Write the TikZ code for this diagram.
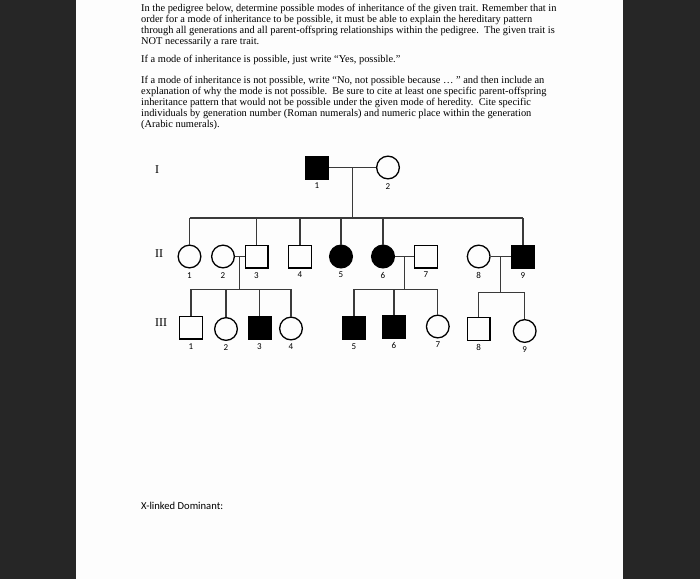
\documentclass[tikz,border=0pt]{standalone}
\usepackage{fontspec}
\setmainfont{Liberation Serif}
\newfontfamily\labfont{Carlito}
\usetikzlibrary{positioning,calc}
\definecolor{scanbar}{HTML}{262626}
\definecolor{paper}{HTML}{FDFDFD}
\definecolor{kinline}{HTML}{3A3A3A}

\begin{document}
\begin{tikzpicture}[x=1pt,y=-1pt,
  male/.style={draw,line width=1.3pt,minimum size=22.7pt,inner sep=0pt},
  female/.style={draw,circle,line width=1.3pt,minimum size=22.7pt,inner sep=0pt},
  hit/.style={fill=black},
  kin/.style={draw=kinline,line width=1.1pt},
  num/.style={font=\labfont\fontsize{9}{9}\selectfont,inner sep=0pt,label distance=3.5pt},
  gen/.style={font=\fontsize{12}{12}\selectfont,anchor=west,inner sep=0pt},
  para/.style={anchor=north west,align=left,inner sep=0pt,font=\fontsize{10.4}{11.1}\selectfont}]
\useasboundingbox (0,0) rectangle (700,579);
\fill[paper] (0,0) rectangle (700,579);
\fill[scanbar] (0,0) rectangle (76,579);
\fill[scanbar] (623,0) rectangle (700,579);

% instructions
\node[para] (intro) at (141,3.5) {In the pedigree below, determine possible modes of inheritance of the given trait. Remember that in\\
order for a mode of inheritance to be possible, it must be able to explain the hereditary pattern\\
through all generations and all parent-offspring relationships within the pedigree.\ \ The given trait is\\
NOT necessarily a rare trait.};
\node[para] (yes) at (141,55) {If a mode of inheritance is possible, just write “Yes, possible.”};
\node[para] (no) at (141,76) {If a mode of inheritance is not possible, write “No, not possible because \dots\ ” and then include an\\
explanation of why the mode is not possible.\ \ Be sure to cite at least one specific parent-offspring\\
inheritance pattern that would not be possible under the given mode of heredity.\ \ Cite specific\\
individuals by generation number (Roman numerals) and numeric place within the generation\\
(Arabic numerals).};

% generation labels
\node[gen] (g1) at (155,170) {I};
\node[gen] (g2) at (155,254) {II};
\node[gen] (g3) at (155,323) {III};

% generation I
\node[male,hit,label={[num]below:1}] (I1) at (317,167.5) {};
\node[female,label={[num]below:2}] (I2) at (388,167.5) {};

% generation II
\node[female,label={[num]below:1}] (II1) at (189.5,256.5) {};
\node[female,label={[num]below:2}] (II2) at (223,256.5) {};
\node[male,label={[num]below:3}] (II3) at (256.5,256.5) {};
\node[male,label={[num]below:4}] (II4) at (300,256.5) {};
\node[female,hit,label={[num]below:5}] (II5) at (341,256.5) {};
\node[female,hit,label={[num]below:6}] (II6) at (383,256.5) {};
\node[male,label={[num]below:7}] (II7) at (426,256.5) {};
\node[female,label={[num]below:8}] (II8) at (478.7,256.5) {};
\node[male,hit,label={[num]below:9}] (II9) at (523,256.5) {};

% generation III
\node[male,label={[num]below:1}] (III1) at (191,327.5) {};
\node[female,label={[num]below:2}] (III2) at (226,329) {};
\node[male,hit,label={[num]below:3}] (III3) at (259.5,327.5) {};
\node[female,label={[num]below:4}] (III4) at (291,328.5) {};
\node[male,hit,label={[num]below:5}] (III5) at (354,328) {};
\node[male,hit,label={[num]below:6}] (III6) at (394,327) {};
\node[female,label={[num]below:7}] (III7) at (437.8,326.5) {};
\node[male,label={[num]below:8}] (III8) at (478.7,329) {};
\node[female,label={[num]below:9}] (III9) at (524.7,331) {};

% matings and sibships
\draw[kin] (I1) -- (I2);
\coordinate (m1) at ($(I1.east)!.5!(I2.west)$);
\coordinate (s2) at (0,218);
\draw[kin] (m1) -- (m1 |- s2);
\draw[kin] (II1 |- s2) -- (II9 |- s2);
\foreach \k in {II1,II3,II4,II5,II6,II9}
  \draw[kin] (\k.north) -- (\k |- s2);

\draw[kin] (II2) -- (II3);
\coordinate (m2) at ($(II2.east)!.5!(II3.west)$);
\coordinate (s3a) at (0,289.3);
\draw[kin] (m2) -- (m2 |- s3a);
\draw[kin] (III1 |- s3a) -- (III4 |- s3a);
\foreach \k in {1,...,4}
  \draw[kin] (III\k.north) -- (III\k |- s3a);

\draw[kin] (II6) -- (II7);
\coordinate (m3) at ($(II6.east)!.5!(II7.west)$);
\coordinate (s3b) at (0,289.3);
\draw[kin] (m3) -- (m3 |- s3b);
\draw[kin] (III5 |- s3b) -- (III7 |- s3b);
\foreach \k in {5,6,7}
  \draw[kin] (III\k.north) -- (III\k |- s3b);

\draw[kin] (II8) -- (II9);
\coordinate (m4) at ($(II8.east)!.5!(II9.west)$);
\coordinate (s3c) at (0,292.3);
\draw[kin] (m4) -- (m4 |- s3c);
\draw[kin] (III8 |- s3c) -- (III9 |- s3c);
\foreach \k in {8,9}
  \draw[kin] (III\k.north) -- (III\k |- s3c);

\node[anchor=west,inner sep=0pt,font=\labfont\fontsize{10.6}{10.6}\selectfont] (xld) at (141,506) {X-linked Dominant:};
\end{tikzpicture}
\end{document}
